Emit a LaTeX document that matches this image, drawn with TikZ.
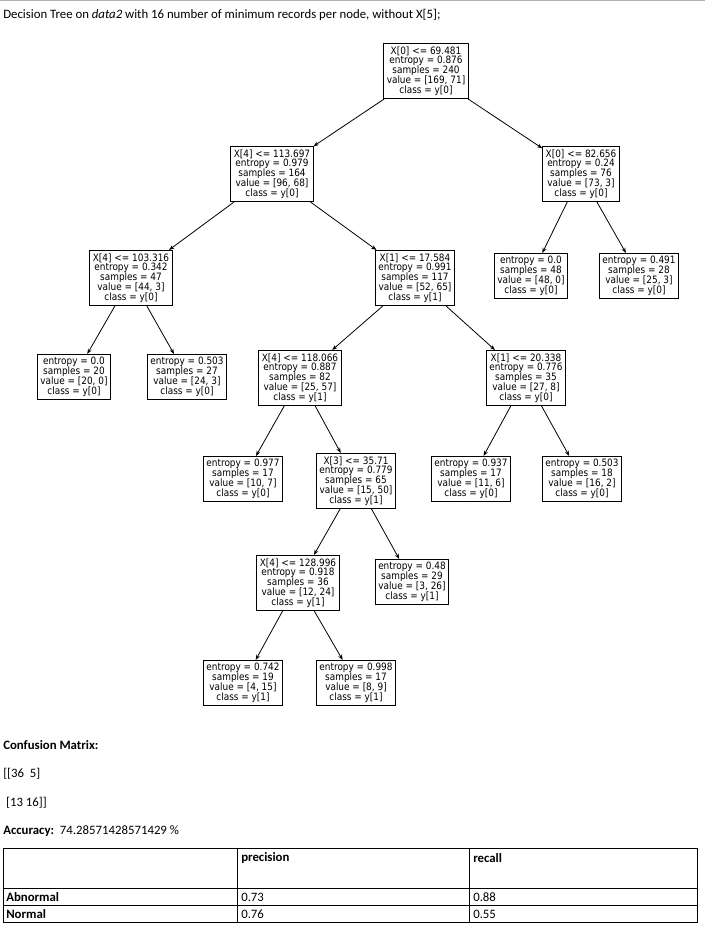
\documentclass[tikz,border=0pt]{standalone}
\usepackage{fontspec}
\setmainfont{Carlito}
\newfontfamily\treefont[FakeStretch=0.88]{DejaVu Sans}
\usetikzlibrary{arrows.meta}
\begin{document}
\begin{tikzpicture}[x=0.75pt,y=-0.75pt,
  tn/.style={draw,line width=0.7pt,align=center,inner sep=2.2pt,font=\treefont\fontsize{7.6}{7.4}\selectfont},
  ed/.style={-{Stealth[length=4pt,width=3pt]},line width=0.6pt},
  txt/.style={anchor=west,inner sep=0pt,font=\fontsize{9.6}{11}\selectfont}]
\useasboundingbox (0,0) rectangle (705,927);
\fill[white] (0,0) rectangle (705,927);
\draw[gray!60,line width=0.8pt] (0,0.5) -- (705,0.5);
\node[txt] (title) at (3,15) {Decision Tree on \textit{data2} with 16 number of minimum records per node, without X[5];};

\node[tn] (r) at (426,71) {X[0] <= 69.481\\entropy = 0.876\\samples = 240\\value = [169, 71]\\class = y[0]};
\node[tn] (a) at (272,174) {X[4] <= 113.697\\entropy = 0.979\\samples = 164\\value = [96, 68]\\class = y[0]};
\node[tn] (b) at (581,174) {X[0] <= 82.656\\entropy = 0.24\\samples = 76\\value = [73, 3]\\class = y[0]};
\node[tn] (c) at (131,278) {X[4] <= 103.316\\entropy = 0.342\\samples = 47\\value = [44, 3]\\class = y[0]};
\node[tn] (d) at (415,278) {X[1] <= 17.584\\entropy = 0.991\\samples = 117\\value = [52, 65]\\class = y[1]};
\node[tn] (e) at (531,276) {entropy = 0.0\\samples = 48\\value = [48, 0]\\class = y[0]};
\node[tn] (f) at (639,276) {entropy = 0.491\\samples = 28\\value = [25, 3]\\class = y[0]};
\node[tn] (g) at (74,377) {entropy = 0.0\\samples = 20\\value = [20, 0]\\class = y[0]};
\node[tn] (h) at (187,377) {entropy = 0.503\\samples = 27\\value = [24, 3]\\class = y[0]};
\node[tn] (i) at (300,378) {X[4] <= 118.066\\entropy = 0.887\\samples = 82\\value = [25, 57]\\class = y[1]};
\node[tn] (j) at (526,378) {X[1] <= 20.338\\entropy = 0.776\\samples = 35\\value = [27, 8]\\class = y[0]};
\node[tn] (k) at (243,479) {entropy = 0.977\\samples = 17\\value = [10, 7]\\class = y[0]};
\node[tn] (l) at (356,481) {X[3] <= 35.71\\entropy = 0.779\\samples = 65\\value = [15, 50]\\class = y[1]};
\node[tn] (m) at (471,479) {entropy = 0.937\\samples = 17\\value = [11, 6]\\class = y[0]};
\node[tn] (n) at (582,479) {entropy = 0.503\\samples = 18\\value = [16, 2]\\class = y[0]};
\node[tn] (o) at (298,583) {X[4] <= 128.996\\entropy = 0.918\\samples = 36\\value = [12, 24]\\class = y[1]};
\node[tn] (p) at (412,582) {entropy = 0.48\\samples = 29\\value = [3, 26]\\class = y[1]};
\node[tn] (q) at (243,683) {entropy = 0.742\\samples = 19\\value = [4, 15]\\class = y[1]};
\node[tn] (s) at (356,683) {entropy = 0.998\\samples = 17\\value = [8, 9]\\class = y[1]};

\foreach \u/\v in {r/a,r/b,a/c,a/d,b/e,b/f,c/g,c/h,d/i,d/j,i/k,i/l,j/m,j/n,l/o,l/p,o/q,o/s}
  \draw[ed] (\u) -- (\v);

\node[txt,font=\bfseries\fontsize{9.6}{11}\selectfont] (cm) at (3,745) {Confusion Matrix:};
\node[txt] (m1) at (3,774) {[[36\ \ 5]};
\node[txt] (m2) at (3,803) {\ [13 16]]};
\node[txt] (acc) at (3,831) {\textbf{Accuracy:}\ \ 74.28571428571429 \%};

\draw[line width=0.6pt] (3,848) rectangle (697,922);
\draw[line width=0.6pt] (3,888) -- (697,888) (3,905) -- (697,905) (237,848) -- (237,922) (469,848) -- (469,922);
\node[txt,font=\bfseries\fontsize{9.6}{11}\selectfont] (hp) at (241,858) {precision};
\node[txt,font=\bfseries\fontsize{9.6}{11}\selectfont] (hr) at (473,858) {recall};
\node[txt,font=\bfseries\fontsize{9.6}{11}\selectfont] (ab) at (6,897) {Abnormal};
\node[txt,font=\bfseries\fontsize{9.6}{11}\selectfont] (no) at (6,914) {Normal};
\node[txt] (v1) at (241,897) {0.73};
\node[txt] (v2) at (473,897) {0.88};
\node[txt] (v3) at (241,914) {0.76};
\node[txt] (v4) at (473,914) {0.55};
\end{tikzpicture}
\end{document}
